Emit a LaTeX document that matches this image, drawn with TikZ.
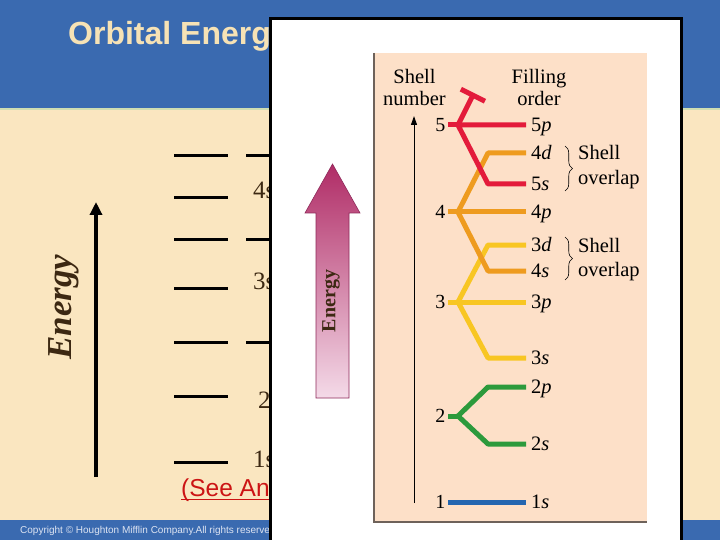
\documentclass[tikz,border=0pt]{standalone}
\usepackage{fontspec}
\setmainfont{Liberation Serif}
\newfontfamily\arialfont{Liberation Sans}
\usetikzlibrary{arrows.meta,decorations.pathreplacing}
\definecolor{hdrblue}{HTML}{3A6AB0}
\definecolor{hdrline}{HTML}{CFDDB2}
\definecolor{cream}{HTML}{FAE6C0}
\definecolor{peach}{HTML}{FDE0C8}
\definecolor{titlecream}{HTML}{F6E2B5}
\definecolor{footertext}{HTML}{DDE4F2}
\definecolor{lvlbrown}{HTML}{3C2812}
\definecolor{seered}{HTML}{CC1414}
\definecolor{panelgray}{HTML}{6E625A}
\definecolor{shellred}{HTML}{E31B3B}
\definecolor{shellorange}{HTML}{EE9B1F}
\definecolor{shellyellow}{HTML}{F8C623}
\definecolor{shellgreen}{HTML}{2C9A3C}
\definecolor{shellblue}{HTML}{2466B0}
\definecolor{arrowtop}{HTML}{B02C66}
\definecolor{arrowbot}{HTML}{F4DAE8}
\definecolor{arrowedge}{HTML}{8E2A5A}

\begin{document}
\begin{tikzpicture}[x=1pt,y=-1pt,
  level/.style={line width=3pt},
  lvllabel/.style={anchor=west,inner sep=0pt,text=lvlbrown,font=\fontsize{25}{25}\selectfont,text height=17pt,text depth=0pt},
  shellnum/.style={anchor=east,inner xsep=2.5pt,inner ysep=0pt,font=\fontsize{20}{20}\selectfont,text height=13.5pt,text depth=0pt},
  orblabel/.style={anchor=west,inner xsep=5pt,inner ysep=0pt,font=\fontsize{20.5}{20.5}\selectfont,text height=13.8pt,text depth=0pt},
  branch/.style={line width=5pt,line join=round},
  overlap/.style={decorate,decoration={brace,amplitude=7.5pt},line width=0.6pt},
  paneltext/.style={anchor=north,inner sep=0pt,font=\fontsize{20.5}{22}\selectfont},
  ]
  \useasboundingbox (0,0) rectangle (720,540);
  \fill[cream] (0,0) rectangle (720,540);
  \fill[hdrblue] (0,0) rectangle (720,108);
  \fill[hdrline] (0,108) rectangle (720,110.5);
  \fill[hdrblue] (0,520) rectangle (720,540);
  \node[anchor=base west,inner sep=0pt,font=\arialfont\bfseries\fontsize{32}{32}\selectfont,text=titlecream] (title) at (68,45) {Orbital Energies};
  \node[anchor=base west,inner sep=0pt,font=\arialfont\fontsize{10}{10}\selectfont,text=footertext] (copy) at (20,533) {Copyright \textcopyright\ Houghton Mifflin Company.All rights reserved.};

  \draw[line width=4pt,-{Triangle[length=13pt,width=12pt]}] (96,477) coordinate (ebot) -- (96,202) coordinate (etop);
  \node[rotate=90,text=lvlbrown,font=\bfseries\itshape\fontsize{35}{35}\selectfont] (energy) at (64,307) {Energy};
  \foreach \y in {156,198,239,288,342,396,462}
    \draw[level] (174,\y) -- (228,\y);
  \foreach \y in {156,239,342}
    \draw[level] (246,\y) -- (285,\y);
  \node[lvllabel] (l4s) at (253,190.5) {4s};
  \node[lvllabel] (l3s) at (253,281) {3s};
  \node[lvllabel] (l2s) at (258,400) {2s};
  \node[lvllabel] (l1s) at (253,459) {1s};
  \node[anchor=base west,inner sep=0pt,text=seered,font=\arialfont\fontsize{24.5}{24.5}\selectfont] (see) at (181,496) {(See Animation)};
  \draw[seered,line width=1.8pt] (181,499.5) -- (300,499.5);

  \draw[line width=3pt,fill=white] (270.5,18.3) rectangle (681.5,570);
  \fill[peach] (374,53) rectangle (647,522);
  \draw[panelgray,line width=1.5pt] (374,53) -- (374,522) -- (647,522);

  \shade[top color=arrowtop,bottom color=arrowbot,draw=arrowedge,line width=0.6pt]
    (316,398) -- (316,213) -- (305,213) -- (332.5,164) -- (360,213) -- (349,213) -- (349,398) -- cycle;
  \node[rotate=90,text=lvlbrown,font=\bfseries\fontsize{20}{20}\selectfont] (arrowlabel) at (331,301) {Energy};

  \node[paneltext,align=center] (shellhead) at (414.5,69) {Shell\\number};
  \node[paneltext,align=center] (fillhead) at (539,69) {Filling\\order};
  \draw[line width=1pt,-{Triangle[length=9pt,width=6pt]}] (414,503) -- (414,116);

  \node[shellnum] (n1) at (448,502) {1};
  \node[shellnum] (n2) at (448,416) {2};
  \node[shellnum] (n3) at (448,302) {3};
  \node[shellnum] (n4) at (448,212) {4};
  \node[shellnum] (n5) at (448,125) {5};
  \foreach \name/\y/\txt in {1s/502/1\textit{s},2s/444/2\textit{s},2p/387/2\textit{p},
      3s/358/3\textit{s},3p/302/3\textit{p},4s/271/4\textit{s},3d/245/3\textit{d},
      4p/212/4\textit{p},5s/184/5\textit{s},4d/153/4\textit{d},5p/125/5\textit{p}}
    \node[orblabel] (o\name) at (526,\y) {\txt};

  \draw[branch,shellblue] (n1.east) -- (o1s.west);
  \coordinate (j2) at (458,416);
  \draw[branch,shellgreen] (o2p.west) -- (488,387) -- (j2) -- (488,444) -- (o2s.west);
  \draw[branch,shellgreen] (n2.east) -- (j2);
  \coordinate (j3) at (458,302);
  \draw[branch,shellyellow] (o3d.west) -- (488,245) -- (j3) -- (488,358) -- (o3s.west);
  \draw[branch,shellyellow] (n3.east) -- (j3) -- (o3p.west);
  \coordinate (j4) at (458,212);
  \draw[branch,shellorange] (o4d.west) -- (488,153) -- (j4) -- (488,271) -- (o4s.west);
  \draw[branch,shellorange] (n4.east) -- (j4) -- (o4p.west);
  \coordinate (j5) at (458,125);
  \coordinate (c6) at (474,93);
  \draw[branch,shellred] (o5s.west) -- (488,184) -- (j5) -- (o5p.west);
  \draw[branch,shellred] (n5.east) -- (j5);
  \draw[branch,shellred,-{Bar[width=27pt]}] (j5) -- (c6);

  \draw[overlap] (565,146) -- (565,191);
  \node[paneltext,anchor=north west,align=left,font=\fontsize{20.5}{25}\selectfont] (ov1) at (578,145) {Shell\\overlap};
  \draw[overlap] (565,237) -- (565,280);
  \node[paneltext,anchor=north west,align=left,font=\fontsize{20.5}{24}\selectfont] (ov2) at (578,238) {Shell\\overlap};
\end{tikzpicture}
\end{document}
